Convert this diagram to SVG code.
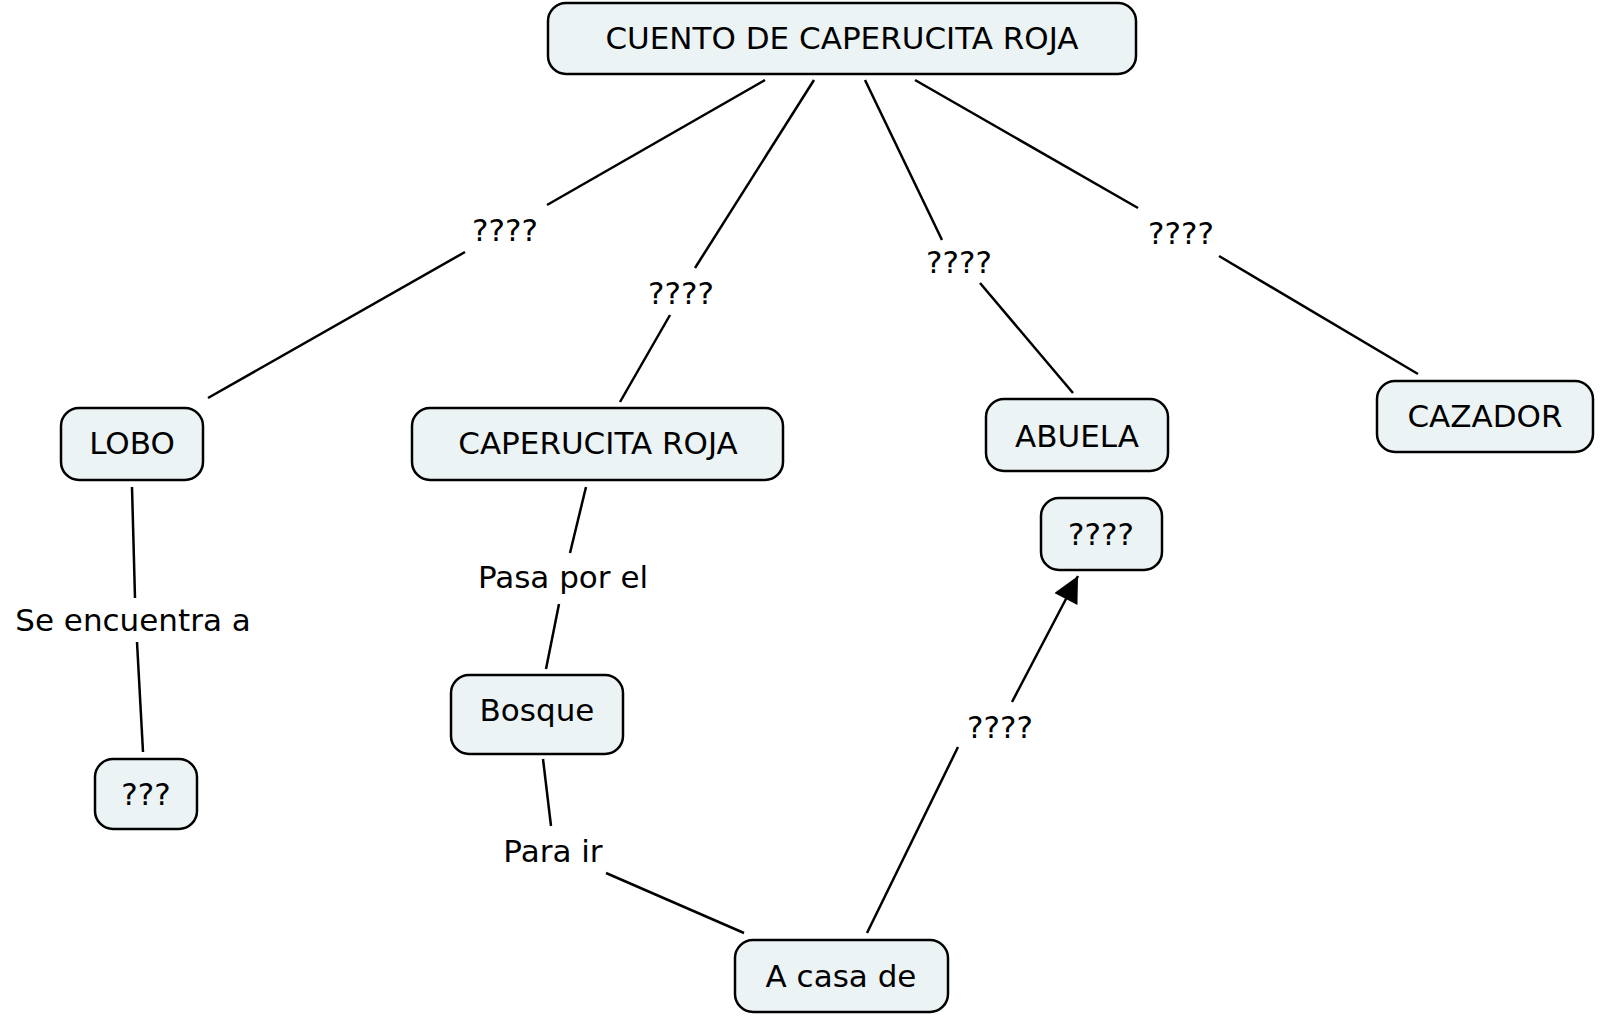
<svg xmlns="http://www.w3.org/2000/svg" width="1600" height="1017" viewBox="0 0 1600 1017">
<style>
.n{fill:#ecf3f5;stroke:#000;stroke-width:2.5}
text{font-family:"DejaVu Sans",Verdana,sans-serif;font-size:31px;text-anchor:middle;dominant-baseline:central;fill:#000}
.c line{stroke:#000;stroke-width:2.5}
</style>
<defs><marker id="a" markerWidth="10" markerHeight="10" refX="9" refY="5" orient="auto" markerUnits="userSpaceOnUse" viewBox="0 0 10 10"><path d="M0,0L10,5L0,10z"/></marker>
<marker id="ah" viewBox="0 0 10 10" refX="10" refY="5" markerWidth="28" markerHeight="26" markerUnits="userSpaceOnUse" orient="auto"><path d="M0,0L10,5L0,10z" fill="#000"/></marker></defs>
<rect width="1600" height="1017" fill="#fff"/>
<g class="c">
<line x1="765" y1="80" x2="547" y2="205"/><line x1="465" y1="252" x2="208" y2="398"/>
<line x1="814" y1="80" x2="695" y2="268"/><line x1="670" y1="315" x2="620" y2="402"/>
<line x1="865" y1="80" x2="942" y2="240"/><line x1="980" y1="283" x2="1073" y2="393"/>
<line x1="915" y1="80" x2="1138" y2="208"/><line x1="1219" y1="256" x2="1418" y2="374"/>
<line x1="132" y1="487" x2="135" y2="598"/><line x1="137" y1="642" x2="143" y2="752"/>
<line x1="586" y1="487" x2="570" y2="553"/><line x1="559" y1="604" x2="546" y2="669"/>
<line x1="543" y1="759" x2="551" y2="826"/><line x1="606" y1="873" x2="744" y2="933"/>
<line x1="867" y1="933" x2="958" y2="747"/><line x1="1012" y1="702" x2="1078" y2="576" marker-end="url(#ah)"/>
<text x="505" y="230">????</text><text x="681" y="293">????</text><text x="959" y="262">????</text><text x="1181" y="233">????</text>
<text x="133" y="620">Se encuentra a</text><text x="563" y="577">Pasa por el</text><text x="553" y="851">Para ir</text><text x="1000" y="727">????</text>
</g>
<g id="title"><rect class="n" x="548" y="3" width="588" height="71" rx="18"/><text x="842" y="38">CUENTO DE CAPERUCITA ROJA</text></g>
<g id="lobo"><rect class="n" x="61" y="408" width="142" height="72" rx="18"/><text x="132" y="443">LOBO</text></g>
<g id="caperucita"><rect class="n" x="412" y="408" width="371" height="72" rx="18"/><text x="598" y="443">CAPERUCITA ROJA</text></g>
<g id="abuela"><rect class="n" x="986" y="399" width="182" height="72" rx="18"/><text x="1077" y="436">ABUELA</text></g>
<g id="cazador"><rect class="n" x="1377" y="381" width="216" height="71" rx="18"/><text x="1485" y="416">CAZADOR</text></g>
<g id="q4"><rect class="n" x="1041" y="498" width="121" height="72" rx="18"/><text x="1101" y="534">????</text></g>
<g id="q3"><rect class="n" x="95" y="759" width="102" height="70" rx="18"/><text x="146" y="794">???</text></g>
<g id="bosque"><rect class="n" x="451" y="675" width="172" height="79" rx="18"/><text x="537" y="710">Bosque</text></g>
<g id="casa"><rect class="n" x="735" y="940" width="213" height="72" rx="18"/><text x="841" y="976">A casa de</text></g>
</svg>
